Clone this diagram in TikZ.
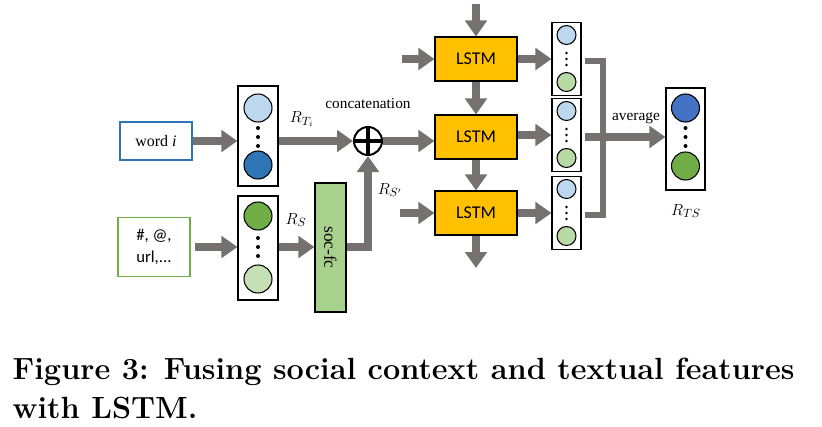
\documentclass[tikz,border=0pt]{standalone}
\usepackage{fontspec}
\setmainfont{Liberation Serif}
\newfontfamily\carl{Carlito}
\newfontfamily\lmr{Latin Modern Roman}
\usetikzlibrary{arrows.meta,calc}
\definecolor{ag}{RGB}{118,113,113}
\definecolor{lb}{HTML}{BDD7EE}
\definecolor{db}{HTML}{2E75B6}
\definecolor{mb}{HTML}{4472C4}
\definecolor{gr}{HTML}{70AD47}
\definecolor{lg}{HTML}{A9D18E}
\definecolor{vlg}{HTML}{C5E0B4}
\definecolor{ls}{HTML}{FFC000}
\begin{document}
\begin{tikzpicture}[x=0.75pt,y=-0.75pt,
 arr/.style={draw=ag,line width=5.5pt,-{Triangle[width=16pt,length=12pt]}},
 ln/.style={draw=ag,line width=5pt},
 vbox/.style={draw,line width=0.8pt,minimum width=40*0.75pt,minimum height=100*0.75pt,inner sep=0pt},
 sbox/.style={draw,line width=0.8pt,minimum width=29*0.75pt,minimum height=73*0.75pt,inner sep=0pt},
 circ/.style={circle,draw,line width=0.8pt,minimum size=#1*0.75pt,inner sep=0pt},
 dot/.style={circle,fill=black,inner sep=0pt,minimum size=3pt},
 lstm/.style={draw,line width=0.8pt,fill=ls,minimum width=82*0.75pt,minimum height=44*0.75pt,font=\carl\fontsize{13.5}{16}\selectfont},
 lab/.style={font=\fontsize{11.5}{14}\selectfont},
 mlab/.style={font=\fontsize{13}{15}\selectfont}]
\useasboundingbox (0,0) rectangle (822,426);
% inputs
\node[draw=db,line width=0.8pt,minimum width=72*0.75pt,minimum height=38*0.75pt,font=\fontsize{12}{14}\selectfont] (word) at (156,141) {word \textit{i}};
\node[draw=gr,line width=0.8pt,minimum width=72*0.75pt,minimum height=59*0.75pt,align=left,font=\carl\fontsize{12.5}{16}\selectfont] (hash) at (154,247) {\#, @,\\url,...};
% vectors
\node[vbox] (vt) at (258,136) {};
\node[circ=28,fill=lb] (vt1) at (258,108) {};
\node[circ=28,fill=db] (vt2) at (258,165) {};
\node[dot] at (258,128) {};\node[dot] at (258,137) {};\node[dot] at (258,146) {};
\node[vbox,minimum height=104*0.75pt] (vs) at (258,248) {};
\node[circ=28,fill=gr] (vs1) at (258,216) {};
\node[circ=28,fill=vlg] (vs2) at (258,279) {};
\node[dot] at (258,238) {};\node[dot] at (258,247) {};\node[dot] at (258,256) {};
% soc-fc
\node[draw,line width=0.8pt,fill=lg,minimum width=31*0.75pt,minimum height=129*0.75pt,inner sep=0pt] (soc) at (330.5,247.5) {};
\node[rotate=-90,font=\fontsize{13}{15}\selectfont] at (soc) {soc-fc};
% oplus
\node[circ=28,line width=1.5pt] (op) at (368,141) {};
\draw[line width=2.5pt] (op.north)--(op.south) (op.west)--(op.east);
\node[lab] at (368,103) {concatenation};
% arrows left
\draw[arr] (word.east) -- (vt.west|-word.east);
\draw[arr] ($(hash.east)+(4,0)$) -- (vs.west|-hash.east);
\draw[arr] (vt.east|-op) -- (op.west);
\draw[arr] (vs.east|-hash.east) -- (soc.west|-hash.east);
\draw[arr] (soc.east|-hash.east) -| (op.south);
\node[mlab] at (302,119) {$R_{T_i}$};
\node[mlab] at (296,220) {$R_S$};
\node[mlab] at (390,190) {$R_{S'}$};
% LSTMs
\node[lstm] (l1) at (476,59) {LSTM};
\node[lstm] (l2) at (476,137) {LSTM};
\node[lstm] (l3) at (476,213) {LSTM};
\coordinate (t0) at (476,4);
\coordinate (b0) at (476,268);
\coordinate (i1) at (402,59);
\coordinate (i3) at (400,213);
\draw[arr] (t0) -- (l1.north);
\draw[arr] (l1) -- (l2);
\draw[arr] (l2) -- (l3);
\draw[arr] (l3.south) -- (b0);
\draw[arr] (i1) -- (l1.west);
\draw[arr] (op.east) -- (l2.west|-op);
\draw[arr] (i3) -- (l3.west);
% small vectors
\foreach \n/\y in {1/59,2/135,3/213}{
 \node[sbox] (s\n) at (566.5,\y) {};
 \node[circ=19,fill=lb] at (566.5,\y-24) {};
 \node[circ=19,fill=lg!80!white] at (566.5,\y+23) {};
 \node[dot,minimum size=2.2pt] at (566.5,\y-6) {};
 \node[dot,minimum size=2.2pt] at (566.5,\y) {};
 \node[dot,minimum size=2.2pt] at (566.5,\y+6) {};
 \draw[arr] (l\n.east|-s\n) -- (s\n.west);
}
% bracket
\draw[ln] ($(s1.east)+(3,2)$) -| (603,215) -- ($(s3.east|-0,215)+(3,0)$);
\node[vbox,minimum width=39*0.75pt,minimum height=102*0.75pt] (rts) at (685.5,139) {};
\node[circ=28,fill=mb] at (685.5,108) {};
\node[circ=28,fill=gr] at (685.5,166) {};
\node[dot] at (685.5,128) {};\node[dot] at (685.5,137) {};\node[dot] at (685.5,146) {};
\draw[arr] ($(s2.east)+(3,2)$) -- (rts.west|-0,137);
\node[lab] at (636,118) {average};
\node[mlab] at (686,211) {$R_{TS}$};
% caption
\node[anchor=west,font=\lmr\bfseries\fontsize{23}{28}\selectfont] at (8,372) {Figure 3: Fusing social context and textual features};
\node[anchor=west,font=\lmr\bfseries\fontsize{23}{28}\selectfont] at (8,408) {with LSTM.};
\end{tikzpicture}
\end{document}
